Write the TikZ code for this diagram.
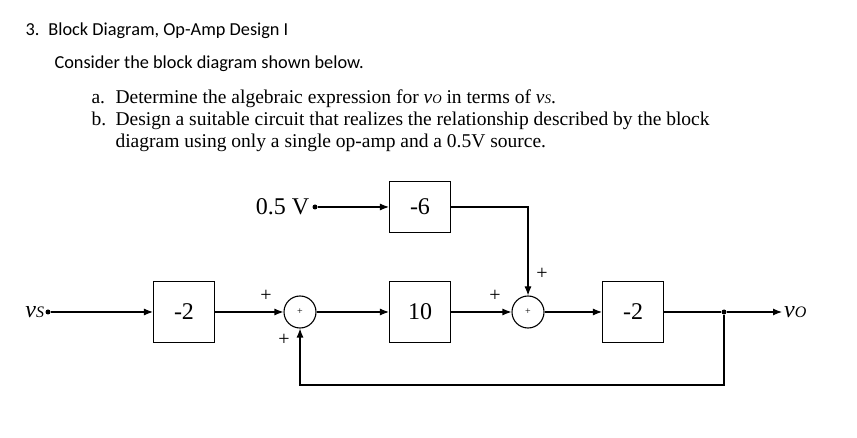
\documentclass[tikz,border=0pt]{standalone}
\usepackage{fontspec}
\setmainfont{Liberation Serif}
\newfontfamily\carlitofont{Carlito}
\usetikzlibrary{arrows.meta}
\newcommand{\vv}[1]{\textit{v}{\fontsize{13}{13}\selectfont\textit{#1}}}
\newcommand{\vb}[1]{\textit{v}{\fontsize{16}{16}\selectfont\textit{#1}}}
\begin{document}
\begin{tikzpicture}[x=1pt,y=-1pt,
  blk/.style={draw,line width=1.1pt,minimum width=61pt,minimum height=61pt,inner sep=0pt,font=\fontsize{24}{24}\selectfont},
  sum/.style={draw,circle,line width=1.1pt,minimum size=32pt,inner sep=0pt},
  ar/.style={line width=1.1pt,-{Latex[length=9pt,width=7pt]}},
  ln/.style={line width=1.1pt},
  dot/.style={circle,fill,inner sep=0pt,minimum size=5pt},
  pm/.style={font=\fontsize{20}{20}\selectfont},
  tx/.style={anchor=base west,font=\fontsize{19.5}{20}\selectfont}]
\useasboundingbox (0,0) rectangle (857,438);
\node[anchor=base west,font=\carlitofont\fontsize{18.3}{18}\selectfont] (t1) at (22,36) {3.\hspace{9pt}Block Diagram, Op-Amp Design I};
\node[anchor=base west,font=\carlitofont\fontsize{18.3}{18}\selectfont] (t2) at (51,69) {Consider the block diagram shown below.};
\node[tx] (ta) at (88,104) {a.};
\node[tx] (tat) at (112,104) {Determine the algebraic expression for \vv{O} in terms of \vv{S}.};
\node[tx] (tb) at (88,126) {b.};
\node[tx] (tbt) at (112,126) {Design a suitable circuit that realizes the relationship described by the block};
\node[tx] (tbt2) at (112,148) {diagram using only a single op-amp and a 0.5V source.};

\node[dot] (vs) at (48,312) {};
\node[anchor=east,font=\fontsize{24}{24}\selectfont,inner sep=1pt] (vsl) at (vs.west) {\vb{S}};
\node[blk] (b1) at (184,312) {-2};
\node[sum] (s1) at (300,312) {\fontsize{10}{10}\selectfont+};
\node[blk] (b2) at (420,312) {10};
\node[sum] (s2) at (528,312) {\fontsize{10}{10}\selectfont+};
\node[blk] (b3) at (633,312) {-2};
\node[dot] (j) at (724,312) {};
\coordinate (vo) at (782,312);
\node[anchor=west,font=\fontsize{24}{24}\selectfont,inner sep=2pt] (vol) at (vo) {\vb{O}};
\node[blk,minimum height=51pt] (b6) at (420,207) {-6};
\node[dot] (h) at (315,207) {};
\node[anchor=east,font=\fontsize{24}{24}\selectfont,inner sep=3pt] (hl) at (h.west) {0.5 V};
\coordinate (c1) at (528,207);
\coordinate (c2) at (724,385);
\coordinate (c3) at (300,385);

\draw[ar] (vs) -- (b1);
\draw[ar] (b1) -- (s1);
\draw[ar] (s1) -- (b2);
\draw[ar] (b2) -- (s2);
\draw[ar] (s2) -- (b3);
\draw[ln] (b3) -- (j);
\draw[ar] (j) -- (vo);
\draw[ar] (h) -- (b6);
\draw[ar] (b6.east) -- (c1) -- (s2);
\draw[ar] (j) -- (c2) -- (c3) -- (s1);

\node[pm] (p1) at (266,296) {+};
\node[pm] (p2) at (284,340) {+};
\node[pm] (p3) at (495,296) {+};
\node[pm] (p4) at (542,274) {+};
\end{tikzpicture}
\end{document}
